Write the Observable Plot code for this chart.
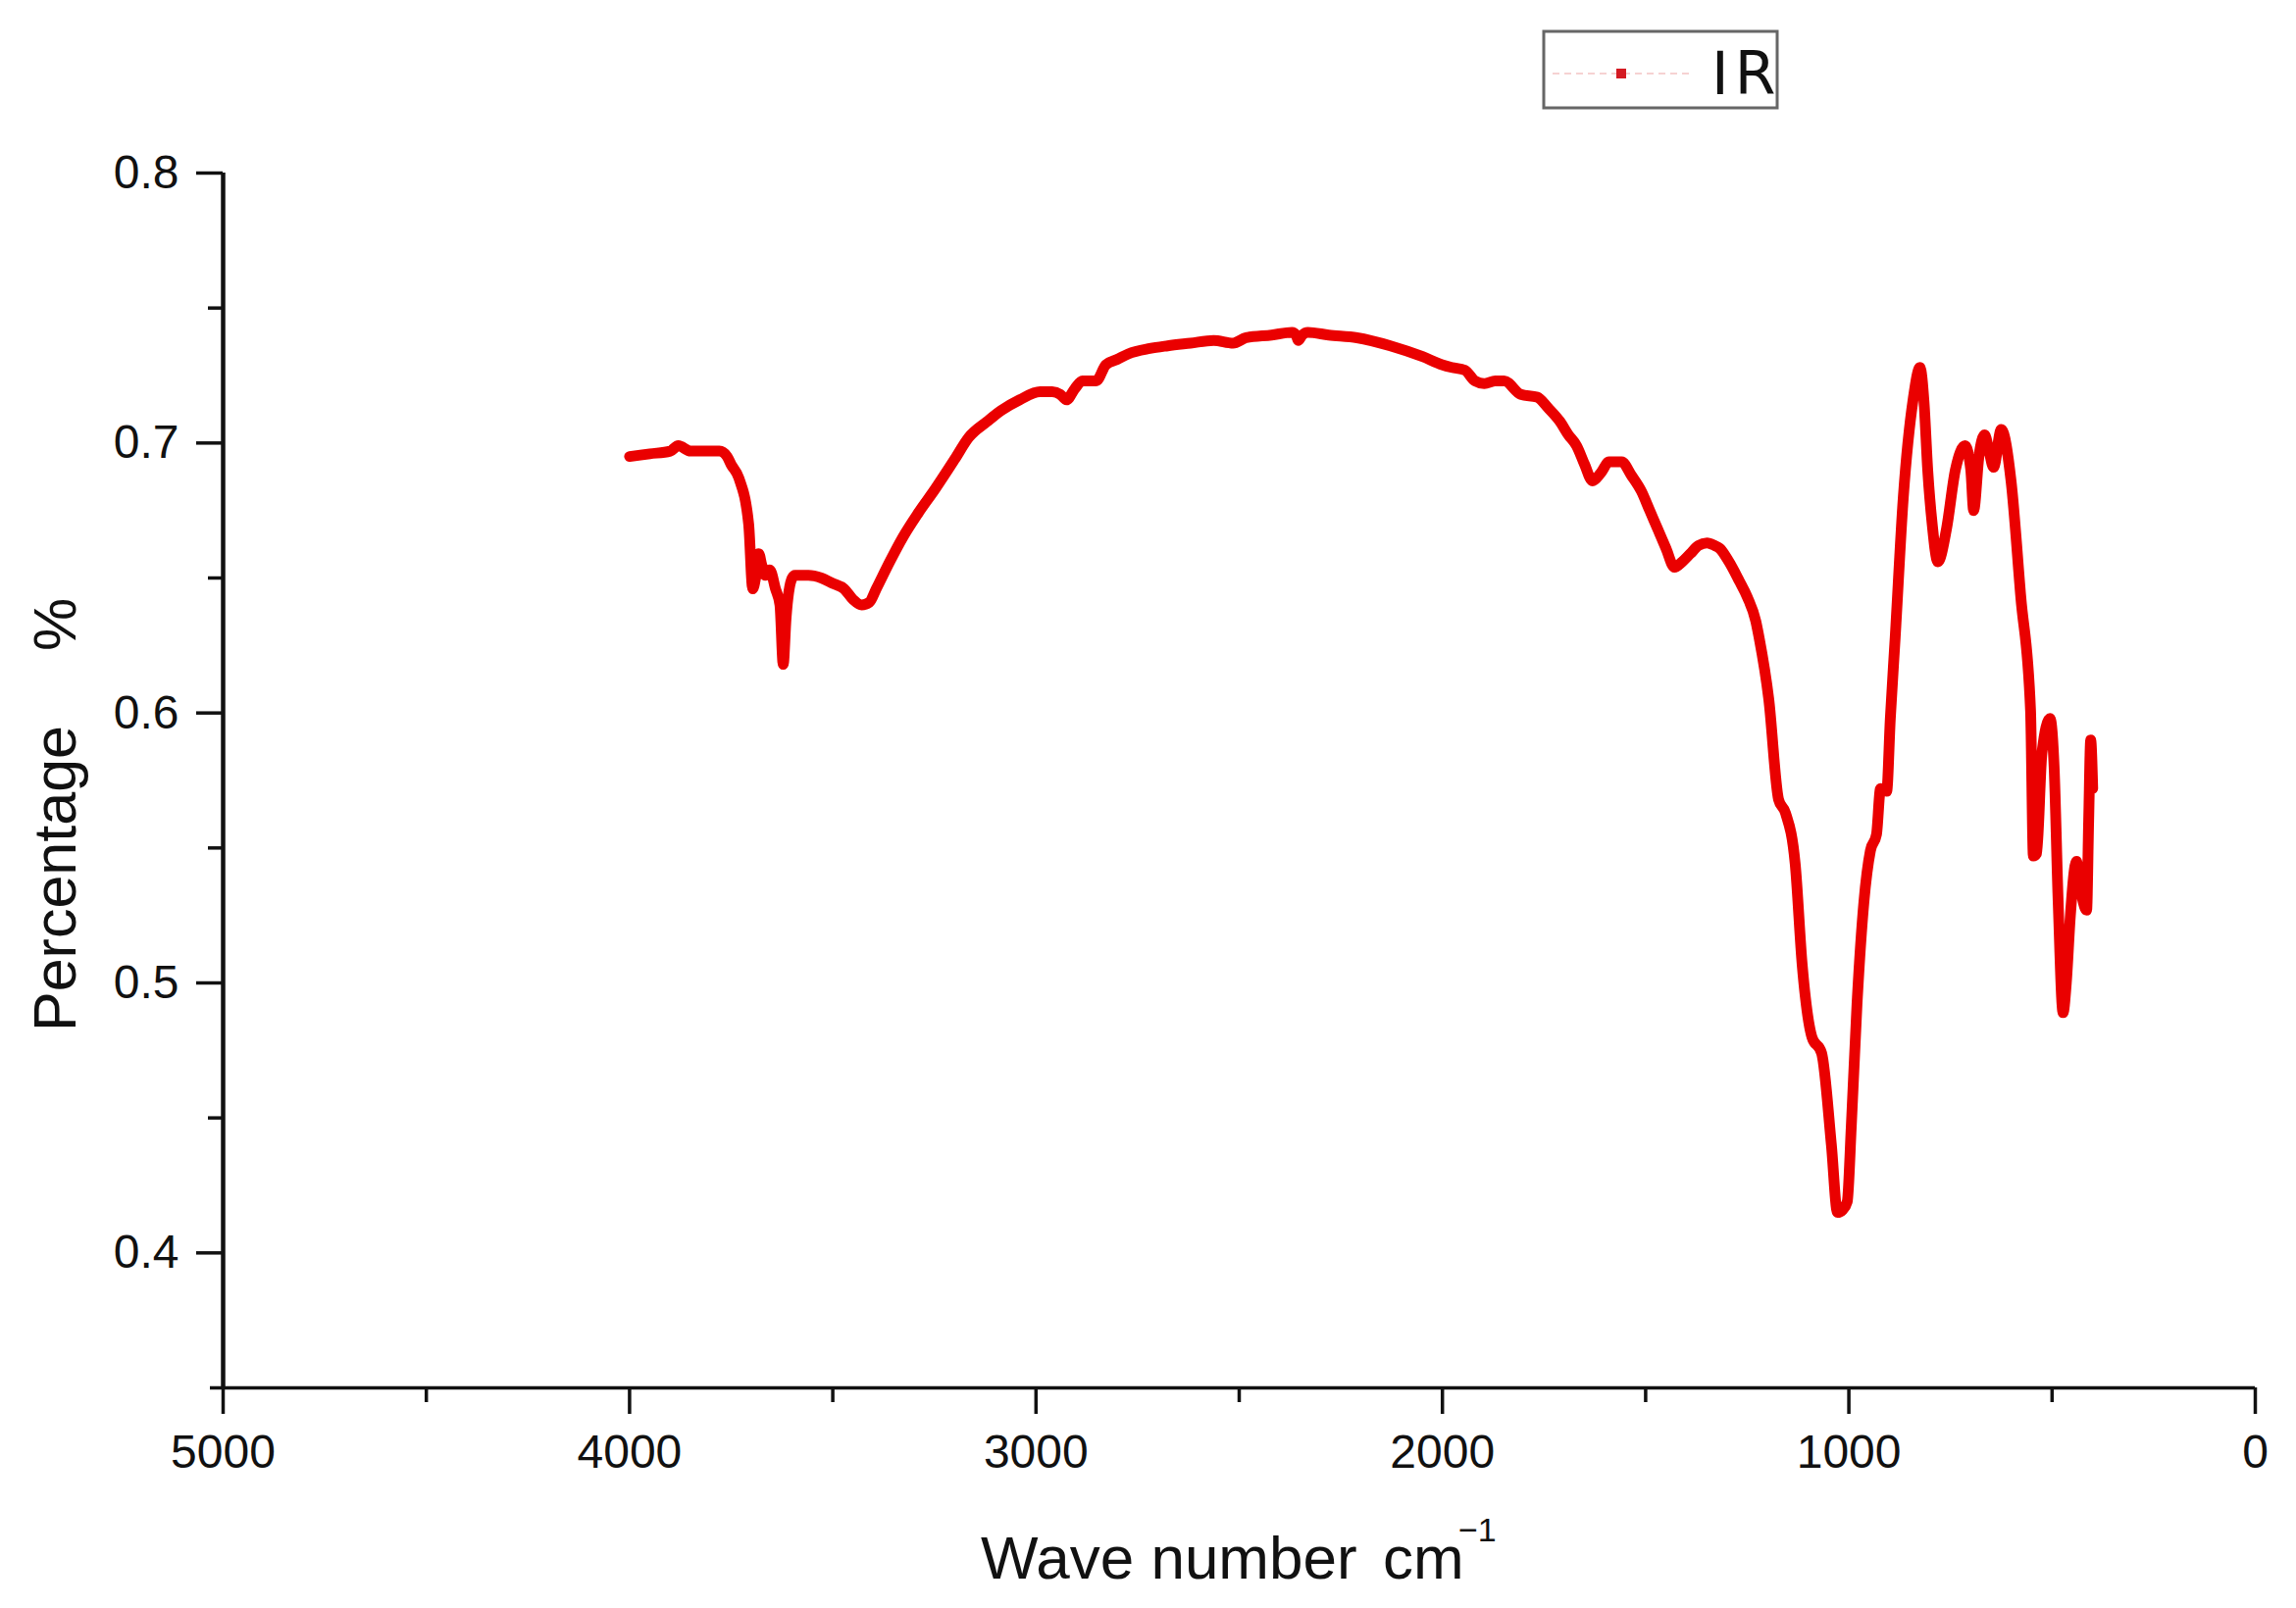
<!DOCTYPE html>
<html>
<head>
<meta charset="utf-8">
<script src="https://cdn.jsdelivr.net/npm/d3@7"></script>
<script src="https://cdn.jsdelivr.net/npm/@observablehq/plot@0.6"></script>
<style>
  html, body { margin: 0; padding: 0; background: #fff; }
  #chart svg { display: block; }
</style>
</head>
<body>
<div id="chart"></div>
<script>
// Wave number (cm^-1)
const waveNumber = [
  4000, 3950, 3900, 3880, 3850, 3800, 3779, 3760, 3750, 3731, 3707, 3697, 3690, 3682, 3675, 3666, 3655, 3641, 3630, 3622, 3615,
  3600, 3593, 3560, 3528, 3500, 3472, 3450, 3429, 3410, 3393, 3360, 3328, 3290, 3248, 3200, 3166, 3120, 3086, 3040, 2990,
  2960, 2940, 2925, 2905, 2886, 2852, 2828, 2800, 2773, 2720, 2676, 2620, 2563, 2515, 2483, 2420, 2370, 2360, 2355, 2345,
  2331, 2280, 2210, 2128, 2049, 2001, 1977, 1945, 1920, 1897, 1870, 1848, 1807, 1767, 1740, 1711, 1690, 1670, 1650, 1631,
  1610, 1590, 1559, 1535, 1510, 1490, 1470, 1450, 1429, 1410, 1390, 1370, 1349, 1330, 1318, 1295, 1270, 1250, 1229, 1221,
  1197, 1173, 1156, 1132, 1115, 1091, 1067, 1043, 1028, 1015, 1004, 994, 980, 963, 947, 932, 922, 907, 898, 886,
  866, 842, 825, 815, 806, 795, 781, 760, 738, 714, 700, 693, 680, 666, 655, 644, 625, 601, 577, 553,
  546, 538, 525, 505, 495, 485, 473, 465, 455, 440, 430, 415, 410, 405, 400
];
// Percentage values (IR series)
const irValues = [
  0.695, 0.696, 0.697, 0.699, 0.697, 0.697, 0.697, 0.695, 0.692, 0.687, 0.670, 0.646, 0.650, 0.659, 0.655, 0.651, 0.653, 0.646, 0.640, 0.618, 0.635,
  0.650, 0.651, 0.651, 0.650, 0.648, 0.646, 0.642, 0.640, 0.641, 0.646, 0.656, 0.665, 0.674, 0.683, 0.694, 0.702, 0.708, 0.712, 0.716, 0.719,
  0.719, 0.718, 0.716, 0.720, 0.723, 0.723, 0.729, 0.731, 0.733, 0.735, 0.736, 0.737, 0.738, 0.737, 0.739, 0.740, 0.741, 0.740, 0.738, 0.740,
  0.741, 0.740, 0.739, 0.736, 0.732, 0.729, 0.728, 0.727, 0.723, 0.722, 0.723, 0.723, 0.718, 0.717, 0.713, 0.708, 0.703, 0.699, 0.692, 0.686,
  0.689, 0.693, 0.693, 0.688, 0.682, 0.675, 0.668, 0.661, 0.654, 0.656, 0.659, 0.662, 0.663, 0.662, 0.661, 0.656, 0.649, 0.643, 0.634, 0.628,
  0.605, 0.568, 0.563, 0.544, 0.507, 0.480, 0.474, 0.440, 0.415, 0.416, 0.419, 0.447, 0.492, 0.530, 0.549, 0.555, 0.572, 0.571, 0.598, 0.628,
  0.680, 0.716, 0.728, 0.715, 0.690, 0.670, 0.656, 0.668, 0.690, 0.699, 0.690, 0.675, 0.695, 0.703, 0.697, 0.691, 0.705, 0.686, 0.643, 0.601,
  0.547, 0.548, 0.585, 0.598, 0.580, 0.530, 0.489, 0.500, 0.525, 0.545, 0.535, 0.527, 0.560, 0.590, 0.572
];
const xMajorTicks = [5000, 4000, 3000, 2000, 1000, 0];
const xMinorTicks = [4500, 3500, 2500, 1500, 500];
const yMajorTicks = [0.4, 0.5, 0.6, 0.7, 0.8];
const yMinorTicks = [0.45, 0.55, 0.65, 0.75];
const seriesName = "IR";
const xTitle = "Wave number";
const xUnit = "cm";
const xUnitExp = "−1";
const yTitle = "Percentage";
const yUnit = "%";

const data = waveNumber.map((w, i) => ({w, v: irValues[i]}));

const font = "'Liberation Sans', Arial, sans-serif";
const red = "#ea0000";

const chart = Plot.plot({
  width: 2341,
  height: 1640,
  marginLeft: 227,
  marginRight: 42,
  marginTop: 176,
  marginBottom: 225,
  style: {fontFamily: font, fontSize: "48px", color: "#111", background: "#fff", overflow: "visible"},
  x: {domain: [5000, 0]},
  y: {domain: [0.35, 0.8]},
  marks: [
    Plot.axisX({ticks: xMajorTicks, tickSize: 27, tickPadding: 20, strokeWidth: 3.5, tickFormat: d => String(d), label: null, fontSize: 48}),
    Plot.axisX({ticks: xMinorTicks, tickSize: 15, strokeWidth: 3.5, tickFormat: () => "", label: null}),
    Plot.axisY({ticks: yMajorTicks, tickSize: 27, tickPadding: 18, strokeWidth: 3.5, tickFormat: d => d.toFixed(1), label: null, fontSize: 48}),
    Plot.axisY({ticks: yMinorTicks, tickSize: 15, strokeWidth: 3.5, tickFormat: () => "", label: null}),
    Plot.ruleY([0.35], {stroke: "#111", strokeWidth: 3.5, insetLeft: -13}),
    Plot.ruleX([5000], {y1: 0.35, y2: 0.8, stroke: "#111", strokeWidth: 4.5}),
    Plot.line(data, {x: "w", y: "v", stroke: red, strokeWidth: 11, strokeLinejoin: "round", curve: "monotone-x"})
  ]
});

document.getElementById("chart").appendChild(chart);

const svg = d3.select(chart);

// Axis titles
const xt = svg.append("g").attr("font-family", font).attr("fill", "#111").attr("text-anchor", "start");
xt.append("text").attr("x", 1000).attr("y", 1610).attr("font-size", 62).text(xTitle);
xt.append("text").attr("x", 1410).attr("y", 1610).attr("font-size", 62).text(xUnit);
xt.append("text").attr("x", 1487).attr("y", 1572).attr("font-size", 34).text(xUnitExp);

const yt = svg.append("g").attr("font-family", font).attr("fill", "#111").attr("text-anchor", "start");
yt.append("text").attr("transform", "translate(77,1052) rotate(-90)").attr("font-size", 61).text(yTitle);
yt.append("text").attr("transform", "translate(77,664) rotate(-90)").attr("font-size", 61).text(yUnit);

// Legend
const lg = svg.append("g");
lg.append("rect").attr("x", 1574).attr("y", 32).attr("width", 238).attr("height", 78)
  .attr("fill", "#fff").attr("stroke", "#666").attr("stroke-width", 3);
lg.append("line").attr("x1", 1583).attr("x2", 1722).attr("y1", 75).attr("y2", 75)
  .attr("stroke", "#f3c4c4").attr("stroke-width", 1.5).attr("stroke-dasharray", "7,5");
lg.append("rect").attr("x", 1648).attr("y", 70).attr("width", 10).attr("height", 10).attr("fill", "#d41a22");
lg.append("text").attr("x", 1745).attr("y", 96).attr("text-anchor", "start")
  .attr("font-family", "'DejaVu Sans', 'Noto Sans', sans-serif")
  .attr("font-size", 60).attr("letter-spacing", 6).attr("fill", "#111").text(seriesName);
</script>
</body>
</html>
